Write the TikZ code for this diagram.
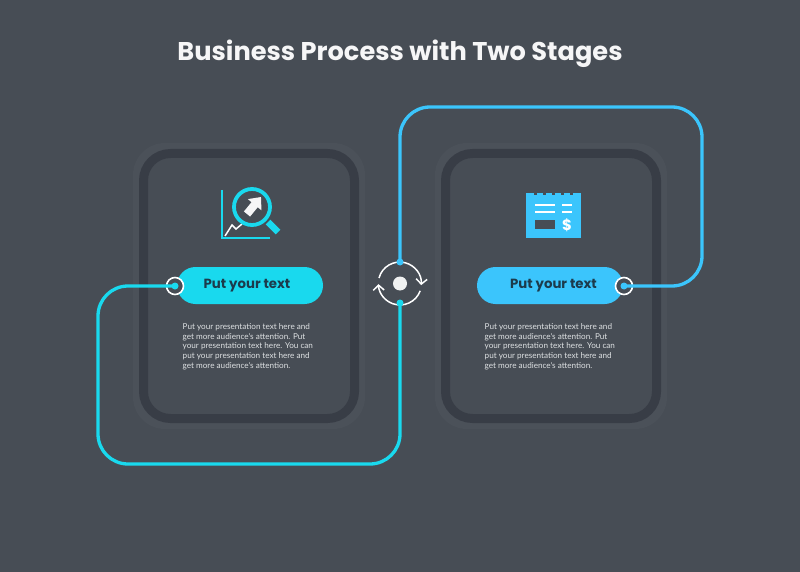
\documentclass[tikz,border=0pt]{standalone}
\usepackage{fontspec}
\setmainfont{Poppins}
\newfontfamily\bodyfont{Lato}
\usetikzlibrary{arrows.meta,positioning}
\definecolor{bgdark}{HTML}{474D55}
\definecolor{bghalo}{HTML}{4B5159}
\definecolor{framedark}{HTML}{383D46}
\definecolor{cyanmain}{HTML}{19D9EE}
\definecolor{bluemain}{HTML}{3BC5FC}
\definecolor{pilltext}{HTML}{1C3B4C}
\definecolor{bodygray}{HTML}{DDE0E2}
\tikzset{
    panel/.style={rectangle, rounded corners=27, draw=framedark, line width=9, fill=bgdark, minimum width=211, minimum height=265},
    halo/.style={rectangle, rounded corners=32, draw=none, fill=bghalo, minimum width=232, minimum height=286},
    pill/.style={rectangle, rounded corners=18.5, minimum width=146, minimum height=37, inner sep=0, text=pilltext, font=\fontsize{13.3}{15}\selectfont\bfseries},
    body text/.style={text=bodygray, font=\bodyfont\fontsize{8.15}{9.6}\selectfont, align=left, anchor=north west, inner sep=0},
    ring dot/.style={circle, draw=white, line width=1.6, fill=bgdark, minimum size=17, inner sep=0},
    path line/.style={line width=3.3, rounded corners=30},
    hub arc/.style={draw=white, line width=1.5, -{Straight Barb[length=5,width=11]}},
}
\begin{document}
\begin{tikzpicture}[x=1pt,y=-1pt]
	\useasboundingbox[fill=bgdark] (0,0) rectangle (800,572);
	\node[font=\fontsize{25.65}{28}\selectfont\bfseries, text=white!95!bgdark] (title) at (400,53.5) {Business Process with Two Stages};
	% panels
	\node[halo] (halo1) at (249,286) {};
	\node[halo] (halo2) at (551,286) {};
	\node[panel] (panel1) at (249,286) {};
	\node[panel] (panel2) at (551,286) {};
	% pills
	\node[pill, fill=cyanmain] (pill1) at (250,285.5) {\raisebox{-1pt}{Put your text}\kern6pt};
	\node[pill, fill=bluemain] (pill2) at (550,285.5) {\kern7pt\raisebox{-1pt}{Put your text}};
	% hub
	\node[circle, fill=white!92!bgdark, minimum size=14, inner sep=0] (hub) at (400,283.5) {};
	\coordinate (hubtop) at (400,262);
	\coordinate (hubbot) at (400,303);
	\draw[hub arc] (379,278) arc[start angle=195, end angle=364, radius=21.5];
	\draw[hub arc] (420.2,290.8) arc[start angle=20, end angle=178, radius=21.5];
	% stage lines
	\node[ring dot] (dot1) at (175,286) {};
	\node[ring dot] (dot2) at (624,286) {};
	\coordinate (cornerA) at (98,286);
	\coordinate (cornerB) at (98,464);
	\coordinate (cornerC) at (400,464);
	\coordinate (cornerD) at (702,286);
	\coordinate (cornerE) at (702,107);
	\coordinate (cornerF) at (400,107);
	\draw[path line, cyanmain] (dot1.center) -- (cornerA) -- (cornerB) -- (cornerC) -- (hubbot);
	\draw[path line, bluemain] (dot2.center) -- (cornerD) -- (cornerE) -- (cornerF) -- (hubtop);
	\fill[cyanmain] (dot1) circle (3.5);
	\fill[bluemain] (dot2) circle (3.5);
	\fill[cyanmain] (hubbot) circle (3.5);
	\fill[bluemain] (hubtop) circle (3.5);
	% body texts
	\node[body text] (body1) at (182.5,323.5) {Put your presentation text here and\\get more audience's attention. Put\\your presentation text here. You can\\put your presentation text here and\\get more audience's attention.};
	\node[body text] (body2) at (484.5,323.5) {Put your presentation text here and\\get more audience's attention. Put\\your presentation text here. You can\\put your presentation text here and\\get more audience's attention.};
	% chart icon
	\draw[cyanmain, line width=1.8] (222,190) -- (222,238) -- (270,238);
	\draw[white, line width=1.5] (225,236) -- (232,225) -- (236,229) -- (242,224);
	\draw[cyanmain, line width=6.5] (268,222) -- (278,232);
	\draw[cyanmain, line width=3.8, fill=bgdark] (252,207) circle (18);
	\draw[white!95!bgdark, line width=8, -{Triangle[length=10,width=17]}] (247,214) -- (261,197);
	% receipt icon
	\fill[bluemain] (526,193) rectangle (581,238);
	\foreach \xa in {534,543,552,561,570}
		\fill[bgdark] (\xa,193) rectangle +(2.5,2.5);
	\draw[white, line width=2] (535,205) -- (555,205) (535,212) -- (555,212) (562,205) -- (572,205) (562,212) -- (572,212);
	\fill[bgdark] (535,220) rectangle (555,229);
	\node[text=white, inner sep=0, font=\fontsize{15}{15}\selectfont\bfseries] (dollar) at (567,225) {\$};
\end{tikzpicture}
\end{document}
